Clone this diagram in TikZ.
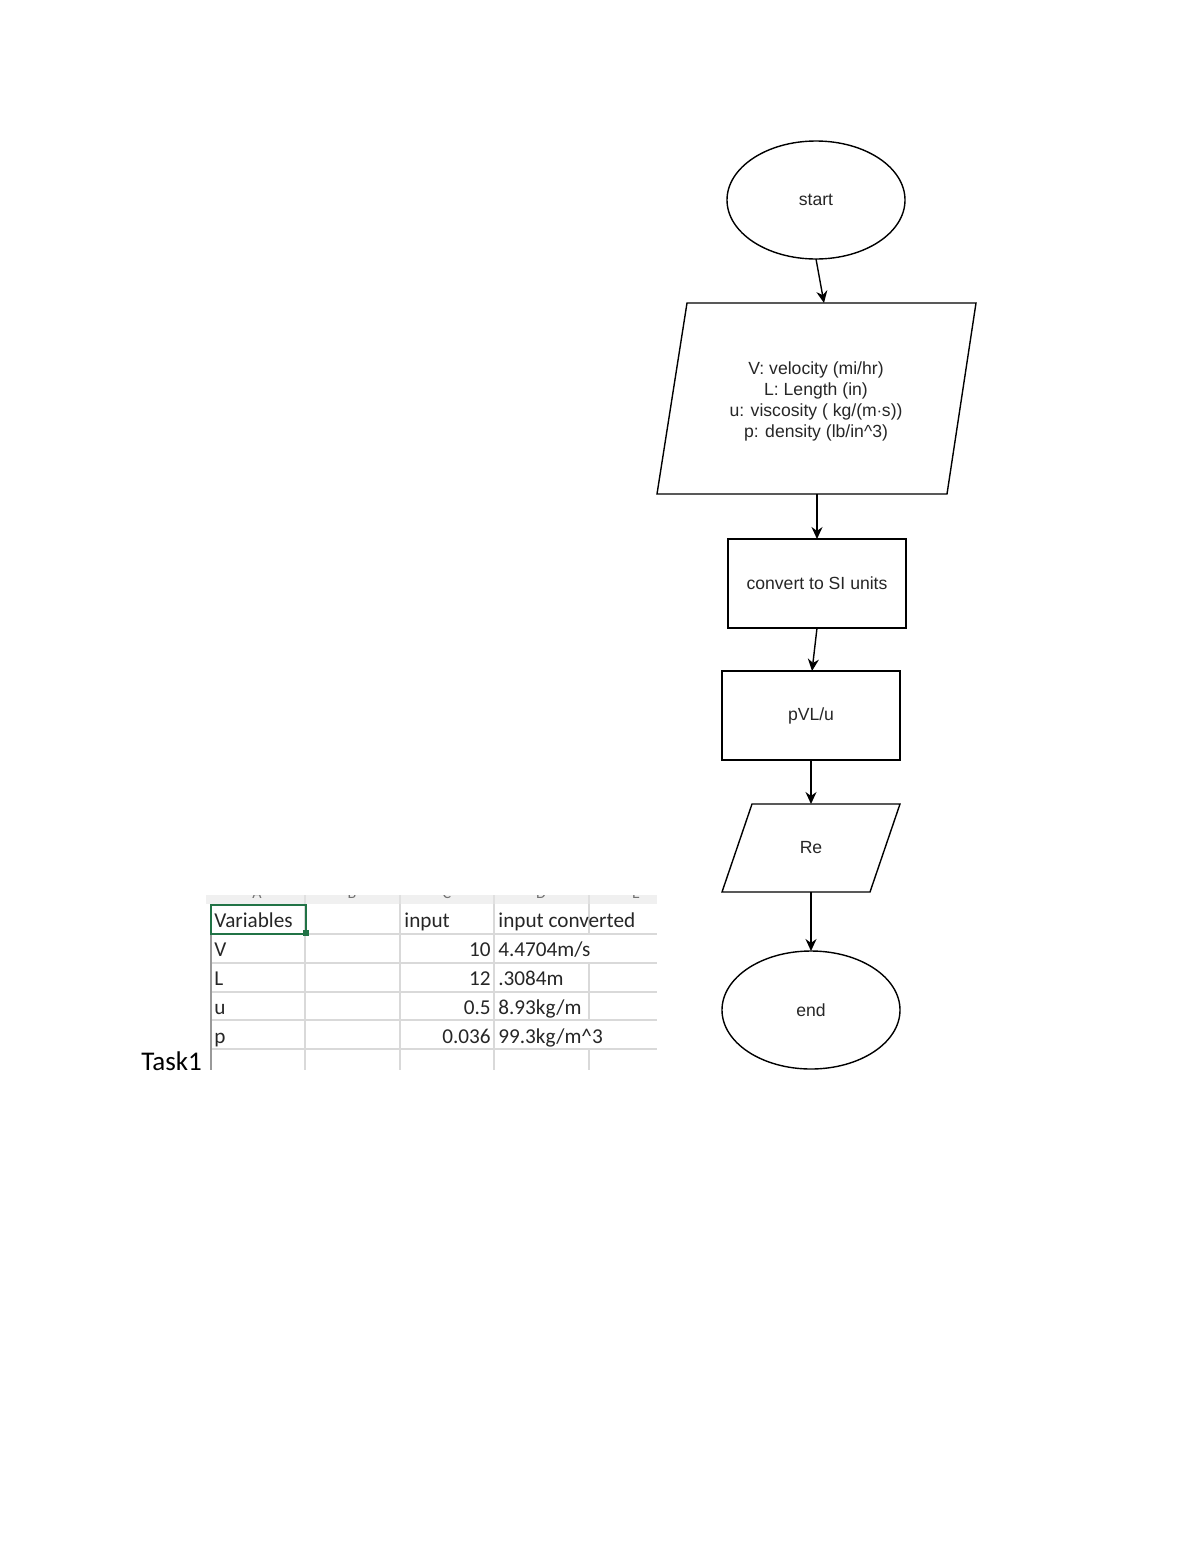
\documentclass[tikz,border=0pt]{standalone}
\usepackage{fontspec}
\setmainfont{Liberation Sans}
\newfontfamily\tabfont{Carlito}
\usetikzlibrary{shapes.geometric,arrows.meta}
\definecolor{xlgreen}{RGB}{33,115,70}
\begin{document}
\begin{tikzpicture}[x=0.5pt,y=-0.5pt,
  fc/.style={font=\fontsize{8.8}{10.5}\selectfont, text=black!85},
  ell/.style={draw, ellipse, line width=0.7pt, minimum width=89pt, minimum height=59pt, inner sep=0pt, fc},
  box/.style={draw, rectangle, line width=0.7pt, minimum width=89pt, minimum height=44.5pt, inner sep=0pt, fc},
  para/.style={draw, line width=0.7pt},
  arr/.style={-{Stealth[length=6pt,width=5.5pt]}, line width=0.7pt},
  grid/.style={draw=black!15, line width=0.6pt},
  tc/.style={font=\tabfont\fontsize{10.6}{12}\selectfont, text=black!85, inner sep=0pt, anchor=base west},
  tn/.style={font=\tabfont\fontsize{10.6}{12}\selectfont, text=black!85, inner sep=0pt, anchor=base east}
]
\useasboundingbox (0,0) rectangle (1200,1553);
% flowchart
\node[ell] (start) at (816,200) {start};
\draw[para] (687,303) -- (976,303) -- (947,494) -- (657,494) -- cycle;
\coordinate (inTop) at (824,303);
\coordinate (inBot) at (817,494);
\node[fc, align=center] (input) at (816,401) {V: velocity (mi/hr)\\L: Length (in)\\u: viscosity ( kg/(m$\cdot$s))\\p: density (lb/in\textasciicircum 3)};
\node[box] (conv) at (817,583.5) {convert to SI units};
\node[box] (calc) at (811,715.5) {pVL/u};
\draw[para] (752,804) -- (900,804) -- (870,892) -- (722,892) -- cycle;
\node[fc] (re) at (811,848) {Re};
\coordinate (reTop) at (811,804);
\coordinate (reBot) at (811,892);
\node[ell] (end) at (811,1010) {end};
\coordinate (startBot) at (816,259);
\coordinate (convTop) at (817,539);
\coordinate (convBot) at (817,628);
\coordinate (calcTop) at (812,671);
\coordinate (calcBot) at (811,760);
\coordinate (endTop) at (811,951);
\draw[arr] (startBot) -- (inTop);
\draw[arr] (inBot) -- (convTop);
\draw[arr] (convBot) -- (calcTop);
\draw[arr] (calcBot) -- (reTop);
\draw[arr] (reBot) -- (endTop);
% table
\fill[black!6] (206,895) rectangle (657,904);
\begin{scope}
\clip (206,895) rectangle (657,904);
\foreach \x/\l in {257/A,352/B,447/C,541/D,636/E}
  \node[font=\tabfont\fontsize{8}{9}\selectfont, text=black!55] at (\x,893) {\l};
\end{scope}
\foreach \x in {305,400,494,589}
  \draw[black!12, line width=0.6pt] (\x,895) -- (\x,904);
\foreach \y in {934,963,992,1020,1049}
  \draw[grid] (210,\y) -- (657,\y);
\foreach \x in {305,400,494}
  \draw[grid] (\x,904) -- (\x,1070);
\draw[grid] (589,904) -- (589,934);
\draw[grid] (589,963) -- (589,1020);
\draw[grid] (589,1049) -- (589,1070);
\draw[black!40, line width=0.8pt] (211,904) -- (211,1070);
\draw[draw=xlgreen, line width=1pt] (210.5,904.5) rectangle (305.5,933.5);
\fill[xlgreen] (303,930) rectangle (309,936);
\node[tc] (h1) at (214,927) {Variables};
\node[tc] (h2) at (404,927) {input};
\node[tc] (h3) at (498,927) {input converted};
\node[tc] (r1a) at (214,956) {V};
\node[tn] (r1b) at (491,956) {10};
\node[tc] (r1c) at (498,956) {4.4704m/s};
\node[tc] (r2a) at (214,985) {L};
\node[tn] (r2b) at (491,985) {12};
\node[tc] (r2c) at (498,985) {.3084m};
\node[tc] (r3a) at (214,1014) {u};
\node[tn] (r3b) at (491,1014) {0.5};
\node[tc] (r3c) at (498,1014) {8.93kg/m};
\node[tc] (r4a) at (214,1043) {p};
\node[tn] (r4b) at (491,1043) {0.036};
\node[tc] (r4c) at (498,1043) {99.3kg/m\textasciicircum 3};
\node[font=\tabfont\fontsize{13.5}{15}\selectfont, inner sep=0pt, anchor=base west] (task) at (141,1070) {Task1};
\end{tikzpicture}
\end{document}
